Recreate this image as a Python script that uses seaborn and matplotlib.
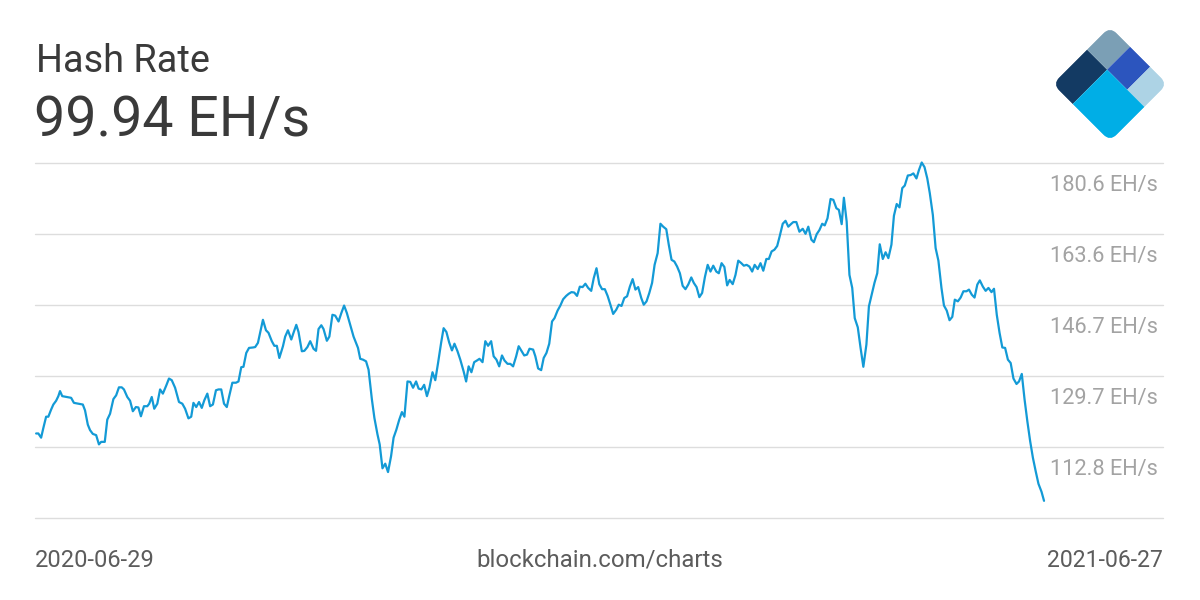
import numpy as np
import pandas as pd
import seaborn as sns
import matplotlib.pyplot as plt
from matplotlib.patches import Rectangle, FancyBboxPatch
from matplotlib.transforms import Affine2D

# Hash rate (EH/s); days counted from 2020-06-29
start = pd.Timestamp("2020-06-29")
end = pd.Timestamp("2021-06-27")

days = [0.4, 1.2, 2.2, 3.0, 4.0, 4.8, 5.8, 6.6, 7.6, 8.4, 9.0, 9.8, 11.4, 13.0, 14.0, 15.6, 17.2, 18.0,
        19.0, 19.8, 20.8, 22.0, 23.0, 23.8, 25.1, 26.0, 27.0, 28.2, 29.2, 30.2, 31.2, 32.0, 33.2, 34.2,
        35.2, 36.3, 37.2, 38.1, 39.2, 40.4, 41.1, 42.0, 42.9, 44.0, 45.0, 46.0, 47.2, 48.2, 49.2, 50.4,
        51.8, 53.0, 54.0, 55.2, 56.2, 57.0, 58.0, 59.0, 60.0, 60.9, 62.0, 63.0, 64.0, 65.1, 66.0, 67.0,
        68.0, 69.0, 69.9, 71.0, 72.3, 73.2, 74.2, 75.0, 76.0, 77.0, 78.4, 79.2, 80.2, 81.0, 82.0, 83.1,
        84.0, 85.2, 86.1, 87.0, 87.9, 89.2, 90.0, 91.0, 92.2, 93.0, 94.0, 94.8, 96.0, 96.9, 98.0, 99.0,
        100.2, 101.1, 102.0, 103.0, 103.8, 105.0, 105.9, 107.0, 108.0, 109.2, 110.2, 111.2, 112.2, 113.4,
        114.6, 115.5, 116.2, 117.0, 118.0, 119.1, 120.0, 121.2, 122.1, 123.2, 124.0, 125.0, 126.0, 127.0,
        128.1, 129.0, 130.0, 131.0, 132.0, 132.9, 134.0, 135.0, 136.0, 137.1, 138.0, 139.0, 140.0, 141.0,
        141.9, 143.0, 144.0, 145.0, 146.1, 147.0, 148.0, 149.0, 150.0, 150.9, 152.0, 153.0, 154.2, 155.1,
        156.0, 157.0, 158.0, 159.0, 159.9, 161.0, 162.0, 163.0, 164.1, 165.0, 166.0, 167.0, 168.0, 168.9,
        170.0, 171.0, 172.0, 173.1, 174.0, 175.0, 176.0, 177.0, 177.9, 179.2, 180.0, 181.0, 182.1, 183.0,
        184.0, 185.0, 186.0, 186.9, 188.0, 189.0, 190.0, 191.1, 192.0, 193.0, 194.0, 195.0, 196.0, 197.0,
        198.0, 199.0, 200.1, 201.0, 202.0, 203.0, 204.0, 205.0, 206.0, 207.0, 208.0, 209.1, 210.0, 211.0,
        212.0, 213.0, 214.0, 215.0, 216.0, 217.0, 218.1, 219.0, 220.0, 221.0, 222.0, 222.9, 224.0, 225.0,
        226.0, 227.1, 228.0, 229.0, 230.0, 231.0, 232.0, 233.0, 234.0, 235.0, 236.1, 237.0, 238.0, 239.0,
        240.0, 241.0, 242.0, 243.0, 244.0, 245.1, 246.0, 247.0, 248.0, 249.0, 249.9, 251.0, 252.0, 253.0,
        254.1, 255.0, 256.0, 257.0, 258.0, 258.9, 260.0, 261.0, 262.0, 263.1, 264.0, 265.0, 266.0, 267.0,
        267.9, 269.0, 270.0, 271.0, 272.1, 272.8, 273.9, 275.0, 276.2, 277.2, 278.2, 279.3, 280.2, 281.2,
        282.2, 283.2, 284.1, 285.1, 286.2, 287.2, 288.3, 289.2, 290.2, 291.0, 292.0, 293.0, 294.0, 294.9,
        296.0, 297.0, 298.0, 299.1, 300.0, 301.0, 302.0, 303.0, 303.9, 305.0, 306.0, 307.0, 308.1, 309.0,
        310.0, 311.0, 312.0, 312.9, 314.0, 315.0, 316.0, 317.1, 318.0, 319.0, 320.0, 321.0, 321.9, 323.0,
        324.0, 325.0, 326.1, 327.0, 328.0, 329.0, 330.0, 330.9, 332.0, 333.0, 334.0, 335.1, 336.0, 337.0,
        338.0, 339.0, 339.9, 341.0, 342.0, 343.0, 344.1, 345.0, 346.0, 347.0, 348.0, 349.0, 350.0, 351.0,
        352.0, 353.1, 354.0, 355.0, 356.0, 357.0, 358.0, 359.0, 360.0, 361.0, 362.1, 363.0]

hash_rate = [116.0, 116.0, 115.0, 117.3, 120.0, 120.0, 121.7, 122.9, 123.8, 124.9, 126.1, 124.9, 124.7, 124.5,
             123.3, 123.1, 122.9, 121.5, 118.1, 116.8, 115.9, 115.6, 113.4, 114.0, 114.0, 119.3, 120.7, 124.2,
             125.1, 127.0, 127.0, 126.5, 124.7, 123.8, 121.3, 122.3, 122.2, 120.1, 122.5, 122.5, 123.1, 124.7,
             121.9, 123.1, 126.5, 125.5, 127.4, 129.1, 128.7, 126.9, 123.5, 123.1, 121.9, 119.6, 120.0, 123.3,
             122.3, 123.5, 122.1, 123.9, 125.5, 122.5, 122.9, 126.3, 126.5, 126.5, 123.1, 122.3, 125.0, 128.1,
             128.1, 128.4, 131.8, 131.9, 135.2, 136.4, 136.5, 136.6, 137.6, 140.0, 143.1, 140.6, 140.0, 138.0,
             136.9, 136.9, 134.0, 136.8, 139.1, 140.6, 138.4, 140.0, 141.9, 140.2, 135.6, 135.7, 136.6, 138.0,
             136.2, 135.7, 140.9, 141.8, 140.9, 138.1, 139.1, 144.3, 144.1, 142.7, 144.7, 146.5, 144.7, 141.9,
             139.1, 137.6, 136.4, 133.8, 133.6, 133.2, 131.2, 124.1, 119.7, 115.8, 113.4, 107.7, 108.8, 106.8,
             110.6, 115.0, 116.9, 119.2, 121.1, 120.0, 128.4, 128.3, 126.9, 128.4, 126.7, 126.5, 127.6, 124.9,
             126.9, 130.6, 128.7, 132.8, 137.6, 141.1, 140.2, 137.7, 135.8, 137.4, 135.6, 133.6, 130.8, 128.4,
             132.0, 130.6, 133.0, 133.4, 133.8, 133.0, 138.0, 136.9, 138.0, 134.4, 133.6, 132.0, 134.6, 133.4,
             132.6, 132.6, 132.0, 134.4, 136.8, 135.7, 134.6, 134.8, 136.2, 136.0, 134.4, 131.5, 131.1, 134.0,
             135.2, 137.4, 142.7, 143.5, 145.3, 146.5, 148.0, 148.8, 149.3, 149.7, 149.6, 148.8, 151.0, 150.9,
             151.7, 150.7, 150.0, 153.0, 155.4, 151.6, 150.4, 150.4, 148.8, 146.7, 144.5, 145.5, 146.7, 146.4,
             148.3, 148.7, 151.0, 152.8, 150.3, 150.9, 148.3, 146.7, 147.5, 149.5, 151.9, 156.2, 159.0, 166.0,
             165.3, 164.7, 161.0, 157.4, 157.0, 155.8, 154.2, 151.2, 150.4, 151.5, 153.2, 151.9, 150.9, 148.5,
             149.5, 153.3, 156.2, 154.6, 156.0, 154.6, 154.2, 156.6, 155.7, 151.3, 152.6, 151.6, 153.8, 157.2,
             156.6, 156.0, 156.2, 155.8, 154.6, 156.2, 155.2, 156.6, 154.8, 157.6, 157.6, 159.4, 159.8, 160.7,
             163.0, 166.0, 166.7, 165.3, 166.0, 166.4, 166.4, 164.1, 164.8, 163.6, 165.3, 162.2, 161.6, 163.5,
             164.5, 166.0, 165.6, 167.3, 171.9, 171.7, 169.7, 169.3, 165.9, 172.2, 166.5, 153.8, 150.7, 143.5,
             141.3, 136.4, 131.9, 137.2, 146.3, 149.1, 151.9, 154.2, 161.1, 157.6, 159.2, 157.8, 161.0, 167.9,
             170.7, 169.9, 174.5, 175.1, 177.5, 177.6, 178.0, 176.8, 178.8, 180.6, 179.5, 176.8, 173.3, 168.1,
             160.2, 157.2, 150.7, 146.5, 145.3, 143.0, 143.8, 147.9, 147.5, 148.4, 149.9, 149.9, 150.3, 149.1,
             148.4, 151.5, 152.5, 151.0, 150.0, 150.7, 149.7, 150.5, 144.3, 140.0, 136.5, 136.4, 133.6, 132.8,
             129.1, 127.8, 128.4, 130.2, 124.1, 118.9, 114.2, 110.2, 107.0, 104.0, 102.1, 99.94]

grid_values = [95.85, 112.8, 129.75, 146.7, 163.65, 180.6]
grid_labels = ["", "112.8 EH/s", "129.7 EH/s", "146.7 EH/s", "163.6 EH/s", "180.6 EH/s"]

df = pd.DataFrame({"date": start + pd.to_timedelta(days, unit="D"), "hash_rate": hash_rate})

sns.set_style("white")
plt.rcParams["font.family"] = ["Roboto", "DejaVu Sans"]

fig = plt.figure(figsize=(12, 6), dpi=100)
ax = fig.add_axes([35 / 1200, 1 - 518 / 600, 1128 / 1200, 355.5 / 600])

for v in grid_values:
    ax.axhline(v, color="#dddddd", lw=1, zorder=0, clip_on=False)

sns.lineplot(data=df, x="date", y="hash_rate", ax=ax, color="#139ad6", linewidth=1.6,
             clip_on=False)

# leave room on the right for the value labels
ax.set_xlim(start, start + pd.Timedelta(days=405.8))
ax.set_ylim(grid_values[0], grid_values[-1])
ax.set_xticks([])
ax.set_yticks([])
ax.set_xlabel("")
ax.set_ylabel("")
for s in ax.spines.values():
    s.set_visible(False)

for v, lab in zip(grid_values, grid_labels):
    ax.annotate(lab, xy=(1, v), xycoords=("axes fraction", "data"), xytext=(-3.6, -20.5),
                textcoords="offset points", ha="right", va="baseline", fontsize=15.7,
                color="#a3a3a3")

# header
fig.text(36 / 1200, 1 - 72 / 600, "Hash Rate", fontsize=27.3, color="#3a3a3a", va="baseline")
fig.text(34 / 1200, 1 - 136 / 600, "99.94 EH/s", fontsize=40, color="#3a3a3a", va="baseline")

# footer
fig.text(35 / 1200, 1 - 567 / 600, start.strftime("%Y-%m-%d"), fontsize=17, color="#5c5c5c",
         va="baseline", ha="left")
fig.text(0.5, 1 - 567 / 600, "blockchain.com/charts", fontsize=17.3, color="#5c5c5c",
         va="baseline", ha="center")
fig.text(1163 / 1200, 1 - 567 / 600, end.strftime("%Y-%m-%d"), fontsize=16.6, color="#5c5c5c",
         va="baseline", ha="right")

# logo
lax = fig.add_axes([1052.5 / 1200, 1 - 141.5 / 600, 115 / 1200, 115 / 600])
lax.set_xlim(-1, 1)
lax.set_ylim(-1, 1)
lax.axis("off")
tr = Affine2D(np.array([[1, 1, -1], [1, -1, 0], [0, 0, 1]])) + lax.transData
clip = FancyBboxPatch((0, 0), 1, 1, boxstyle="round,pad=0,rounding_size=0.12",
                      transform=tr, facecolor="none", edgecolor="none")
lax.add_patch(clip)
pieces = [((0, 0), 0.6, 0.35, "#133a63"),
          ((0.6, 0), 0.4, 0.35, "#7b9fb5"),
          ((0.6, 0.35), 0.4, 0.35, "#2c55be"),
          ((0.6, 0.7), 0.4, 0.3, "#add3e5"),
          ((0, 0.35), 0.6, 0.65, "#00aee6")]
for xy, w, h, c in pieces:
    r = Rectangle(xy, w, h, transform=tr, facecolor=c, edgecolor="none")
    lax.add_patch(r)
    r.set_clip_path(clip)

fig.savefig("out.png", dpi=100)
